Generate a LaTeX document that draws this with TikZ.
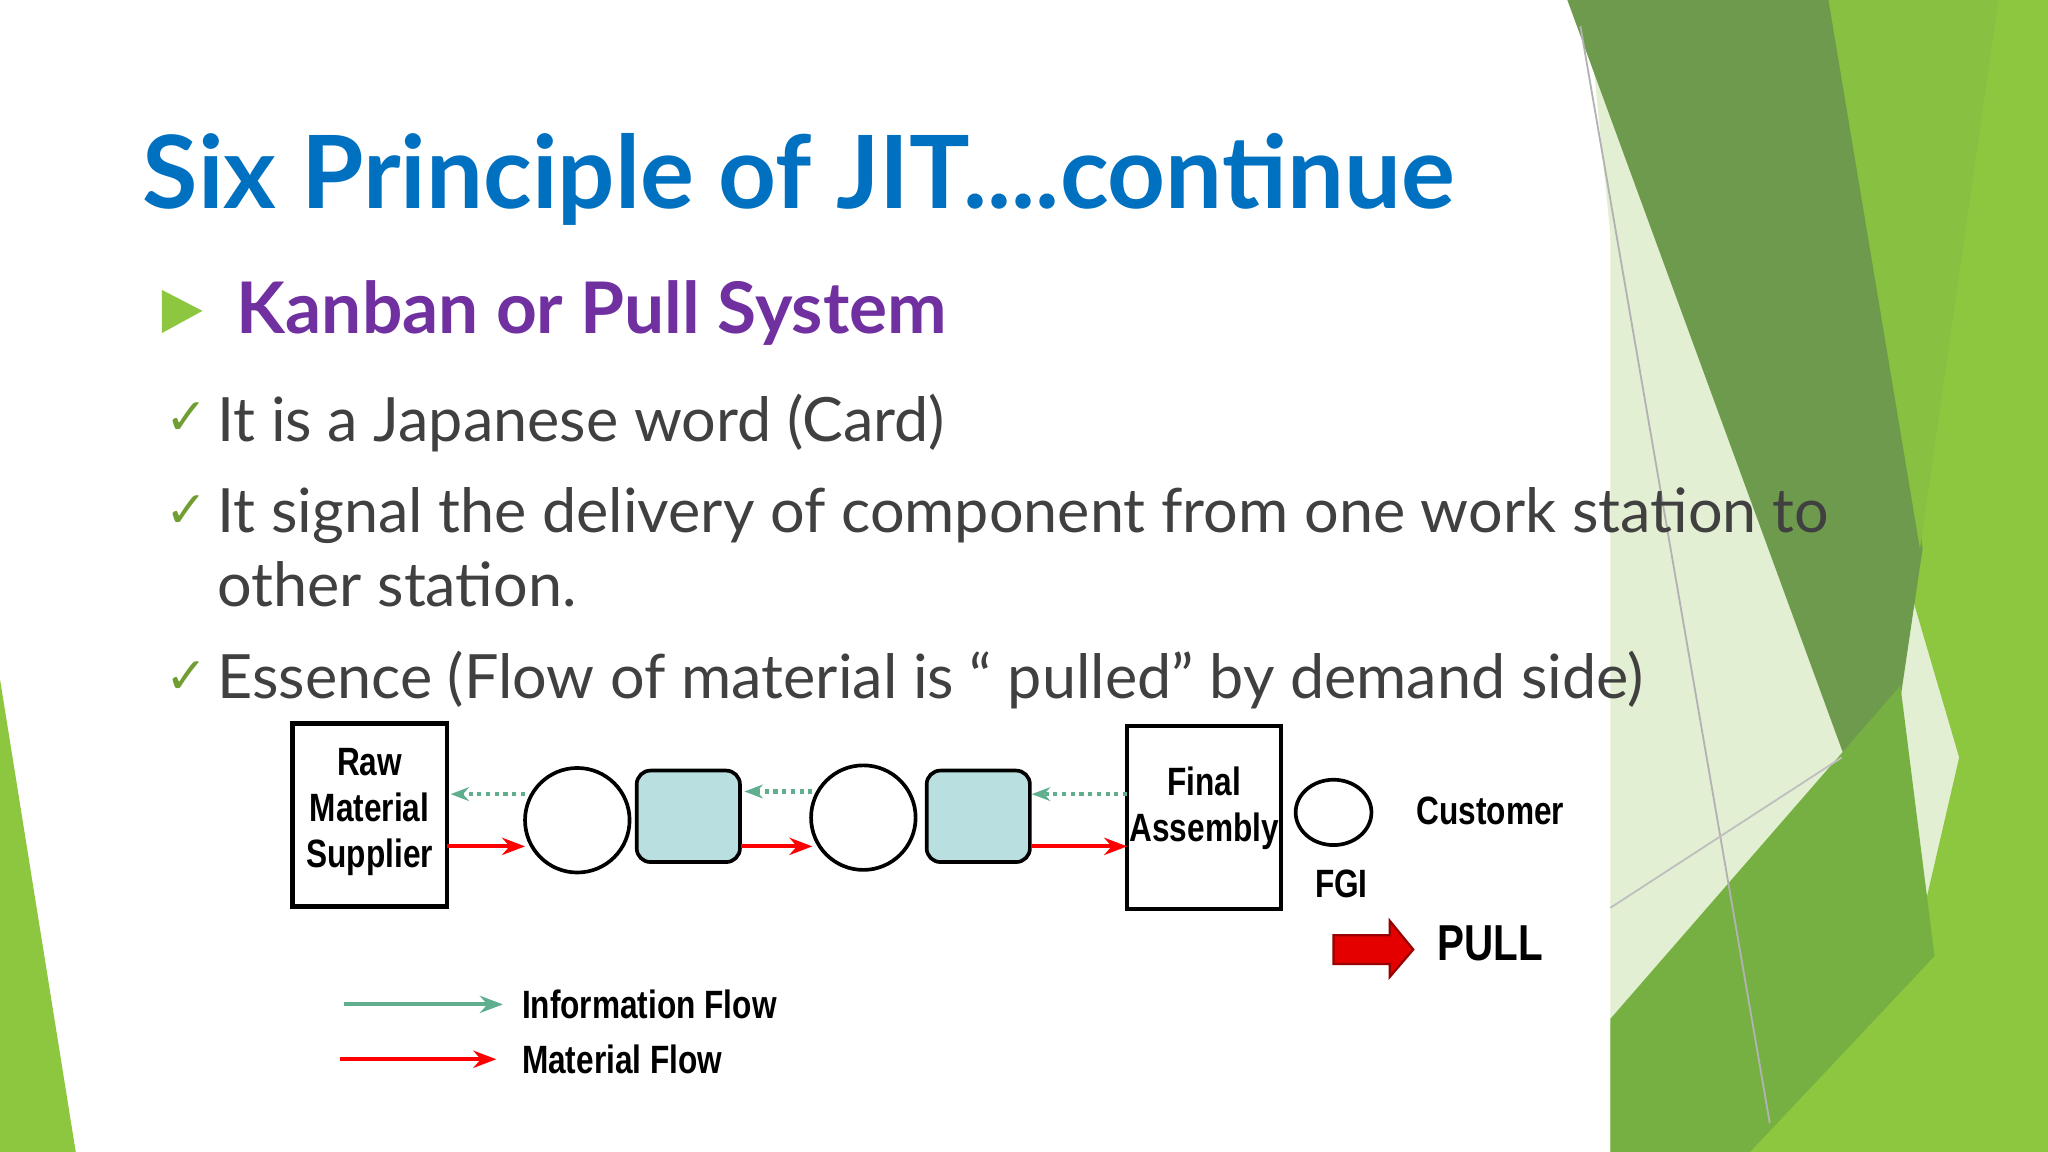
\documentclass[tikz,border=0pt]{standalone}
\usepackage{fontspec}
\setmainfont{Lato}
\newfontfamily\dfont[FakeStretch=0.8]{Liberation Sans}
\newfontfamily\symfont{DejaVu Sans}
\usetikzlibrary{shapes.geometric,arrows.meta}
\definecolor{titleblue}{HTML}{0070C0}
\definecolor{subpurple}{HTML}{7030A0}
\definecolor{bodygray}{HTML}{404040}
\definecolor{lime}{HTML}{8DC63F}
\definecolor{olive}{HTML}{6E9A4E}
\definecolor{pale}{HTML}{E3EFD2}
\definecolor{midg}{HTML}{76B043}
\definecolor{infog}{HTML}{5FAF8F}
\definecolor{boxfill}{HTML}{B9DFE0}
\tikzset{
  diag/.style={font=\dfont\bfseries\fontsize{8.6}{10}\selectfont, align=center, text=black, inner sep=0pt},
  stbox/.style={draw=black, line width=0.9pt, minimum width=1.18cm, minimum height=1.4cm},
  buf/.style={draw=black, line width=0.8pt, ellipse, minimum width=0.8cm, minimum height=0.8cm},
  kan/.style={draw=black, line width=0.8pt, fill=boxfill, rounded corners=3pt, minimum width=0.79cm, minimum height=0.7cm},
  info/.style={infog, densely dotted, line width=0.9pt, -{Stealth[length=4pt]}},
  matl/.style={red, line width=0.9pt, -{Stealth[length=5pt]}},
  bullet/.style={anchor=base west, text=bodygray, font=\fontsize{13.3}{16}\selectfont},
  chk/.style={anchor=base west, text=lime!80!black, font=\symfont\fontsize{11}{13}\selectfont}
}
\begin{document}
\begin{tikzpicture}[x=0.01cm,y=-0.01cm]
\useasboundingbox (0,0) rectangle (1568,882);
\fill[white] (0,0) rectangle (1568,882);
% background shapes
\fill[pale] (1215,0) -- (1568,0) -- (1568,882) -- (1233,882) -- (1233,180) -- cycle;
\fill[lime] (1330,0) -- (1568,0) -- (1568,882) -- (1430,882) -- (1500,580) -- cycle;
\fill[olive] (1200,0) -- (1420,0) -- (1472,420) -- (1438,650) -- cycle;
\fill[lime!85!olive] (1400,0) -- (1530,0) -- (1470,420) -- cycle;
\fill[midg] (1233,780) -- (1455,525) -- (1500,882) -- (1233,882) -- cycle;
\fill[lime] (1340,882) -- (1568,640) -- (1568,882) -- cycle;
\fill[lime] (0,520) -- (58,882) -- (0,882) -- cycle;
\draw[gray!60, line width=0.4pt] (1210,20) -- (1355,860);
\draw[gray!50, line width=0.4pt] (1233,695) -- (1410,580);
% texts
\node[anchor=base west, text=titleblue, font=\bfseries\fontsize{22}{26}\selectfont] (title) at (97,160) {Six Principle of JIT....continue};
\fill[lime] (124,222) -- (155,238) -- (124,255) -- cycle;
\node[anchor=base west, text=subpurple, font=\bfseries\fontsize{15.5}{18}\selectfont] (sub) at (169,255) {Kanban or Pull System};
\node[chk] (c1) at (114,333) {✓};
\node[bullet] (b1) at (154,338) {It is a Japanese word (Card)};
\node[chk] (c2) at (114,404) {✓};
\node[bullet] (b2) at (154,408) {It signal the delivery of component from one work station to};
\node[bullet] (b2b) at (154,464) {other station.};
\node[chk] (c3) at (114,531) {✓};
\node[bullet] (b3) at (154,535) {Essence (Flow of material is “ pulled” by demand side)};
% diagram
\node[stbox] (raw) at (283,624) {};
\node[diag] (rawt) at (283,622) {Raw\\Material\\Supplier};
\node[buf] (c1b) at (442,628) {};
\node[kan] (k1) at (527,625) {};
\node[buf] (c2b) at (661,626) {};
\node[kan] (k2) at (749,625) {};
\node[stbox] (fin) at (922,626) {};
\node[diag] (fint) at (922,619) {Final\\Assembly};
\node[buf, minimum width=0.58cm, minimum height=0.5cm] (fgi) at (1021,622) {};
\node[diag] (cust) at (1141,621) {Customer};
\node[diag] (fgit) at (1027,677) {FGI};
\fill[red!90!black, draw=red!60!black, line width=0.5pt] (1021,716) -- (1064,716) -- (1064,705) -- (1082,727) -- (1064,748) -- (1064,738) -- (1021,738) -- cycle;
\node[diag, font=\dfont\bfseries\fontsize{11}{13}\selectfont] (pull) at (1141,722) {PULL};
\coordinate (i1s) at (402,608); \coordinate (i1e) at (345,608);
\coordinate (i2s) at (622,606); \coordinate (i2e) at (570,606);
\coordinate (i3s) at (863,608); \coordinate (i3e) at (790,608);
\draw[info] (i1s) -- (i1e);
\draw[info] (i2s) -- (i2e);
\draw[info] (i3s) -- (i3e);
\coordinate (m1s) at (342,648); \coordinate (m1e) at (402,648);
\coordinate (m2s) at (567,648); \coordinate (m2e) at (622,648);
\coordinate (m3s) at (789,648); \coordinate (m3e) at (863,648);
\draw[matl] (m1s) -- (m1e);
\draw[matl] (m2s) -- (m2e);
\draw[matl] (m3s) -- (m3e);
% legend
\coordinate (l1s) at (263,769); \coordinate (l1e) at (385,769);
\coordinate (l2s) at (260,811); \coordinate (l2e) at (380,811);
\draw[infog, line width=0.9pt, -{Stealth[length=5pt]}] (l1s) -- (l1e);
\draw[matl] (l2s) -- (l2e);
\node[diag, anchor=west] (lt1) at (399,769) {Information Flow};
\node[diag, anchor=west] (lt2) at (399,811) {Material Flow};
\end{tikzpicture}
\end{document}
